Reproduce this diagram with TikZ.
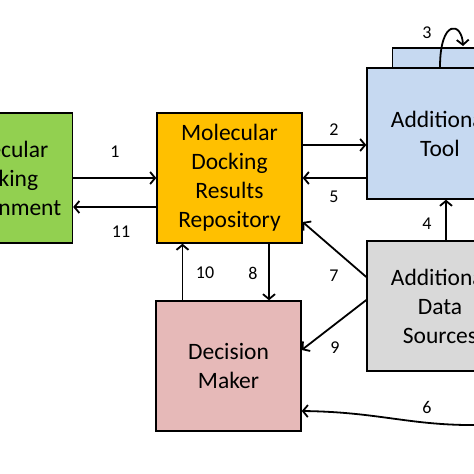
\documentclass[tikz,border=0pt]{standalone}
\usepackage{fontspec}
\setmainfont{Carlito}
\usetikzlibrary{arrows.meta}
\definecolor{cgreen}{HTML}{92D050}
\definecolor{corange}{HTML}{FFC000}
\definecolor{cblue}{HTML}{C6D9F1}
\definecolor{cgray}{HTML}{D9D9D9}
\definecolor{cpink}{HTML}{E6B9B8}
\tikzset{
  box/.style={draw=black, line width=1.4pt, minimum width=145pt, minimum height=130pt,
    align=center, inner sep=0pt, font=\fontsize{23.5}{29}\selectfont},
  arr/.style={line width=1.8pt, -{Straight Barb[length=5pt,width=12pt,line width=1.8pt]}},
  lab/.style={font=\fontsize{18}{21}\selectfont, inner sep=0pt},
}
\begin{document}
\begin{tikzpicture}[x=1pt,y=-1pt]
\useasboundingbox (0,0) rectangle (474,474);
\clip (0,0) rectangle (474,474);
\fill[white] (0,0) rectangle (474,474);
\node[box, fill=cgreen] (green) at (0,178) {Molecular\\Docking\\Environment};
\node[box, fill=corange] (orange) at (229.5,178) {Molecular\\Docking\\Results\\Repository};
\node[box, fill=cblue, minimum height=132pt] (back) at (465,114) {};
\node[box, fill=cblue, minimum width=146pt, minimum height=131pt] (blue) at (440,133.5) {Additional\\Tool};
\node[box, fill=cgray, minimum width=146pt] (gray) at (440,306) {Additional\\Data\\Sources};
\node[box, fill=cpink] (pink) at (228.5,366) {Decision\\Maker};
% arrows 1 and 11
\draw[arr] (green.east) -- (orange.west);
\draw[arr] ([yshift=-29pt]orange.west) -- ([yshift=-29pt]green.east);
% arrows 2 and 5
\coordinate (a2) at ([yshift=33pt]orange.east);
\draw[arr] (a2) -- (a2 -| blue.west);
\draw[arr] (orange.east -| blue.west) -- (orange.east);
% arrow 3
\coordinate (a3) at (463,46);
\draw[arr] (blue.north) .. controls (440,18) and (462,22) .. (a3);
% arrow 4
\draw[arr] ([xshift=6pt]gray.north) -- ([xshift=6pt]blue.south);
% arrow 7 and 9
\draw[arr] ([yshift=29pt]gray.west) -- ([yshift=-44pt]orange.east);
\draw[arr] ([yshift=6pt]gray.west) -- ([yshift=16pt]pink.east);
% arrows 10 and 8
\coordinate (a10) at ([xshift=-46pt]pink.north);
\draw[arr] (a10) -- (a10 |- orange.south);
\coordinate (a8) at ([xshift=39.5pt]orange.south);
\draw[arr] (a8) -- (a8 |- pink.north);
% arrow 6
\coordinate (a6) at (480,425);
\draw[arr] (a6) .. controls (410,426) and (380,412) .. ([yshift=-45pt]pink.east);
% labels
\node[lab] (l1) at (115,152) {1};
\node[lab] (l11) at (121,232) {11};
\node[lab] (l2) at (334,130) {2};
\node[lab] (l5) at (334,197) {5};
\node[lab] (l3) at (427,33) {3};
\node[lab] (l4) at (427,224) {4};
\node[lab] (l7) at (334,276) {7};
\node[lab] (l9) at (335,348) {9};
\node[lab] (l10) at (205,273) {10};
\node[lab] (l8) at (253,273) {8};
\node[lab] (l6) at (427,407) {6};
\end{tikzpicture}
\end{document}
